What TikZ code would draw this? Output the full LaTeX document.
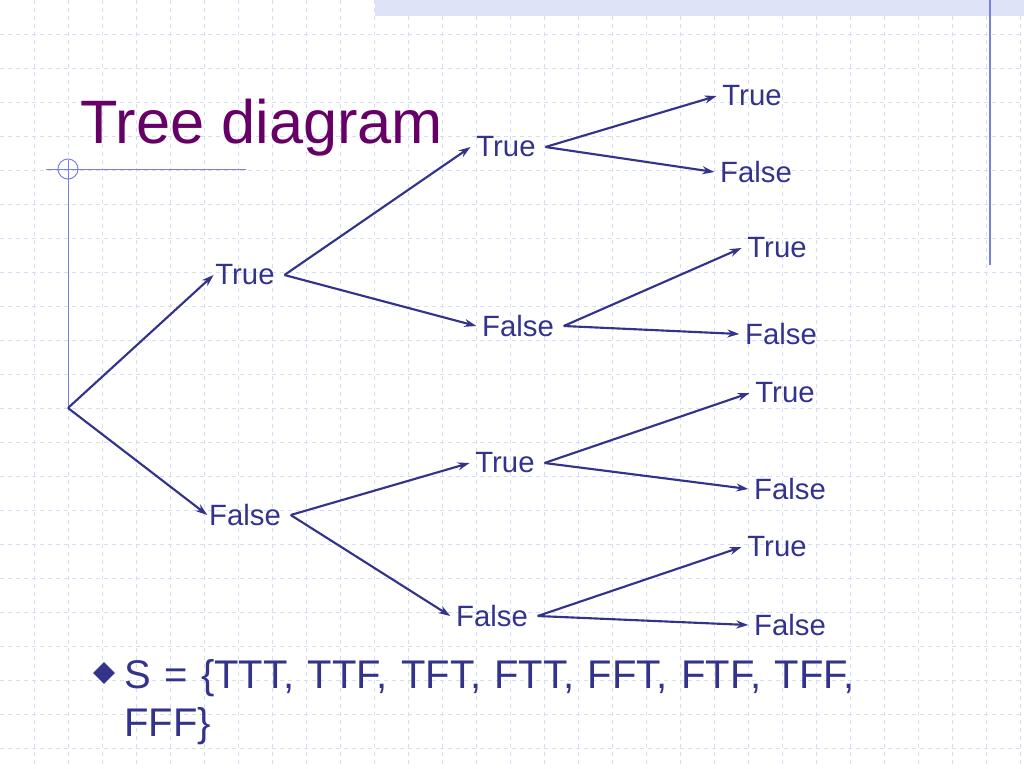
\documentclass[tikz,border=0pt]{standalone}
\usepackage{fontspec}
\setmainfont{Liberation Sans}
\usetikzlibrary{arrows.meta,shapes.geometric}
\definecolor{slideblue}{RGB}{51,51,140}
\definecolor{titlepurple}{RGB}{102,0,102}
\definecolor{gridblue}{RGB}{215,220,245}
\definecolor{rulerblue}{RGB}{120,130,220}
\tikzset{every picture/.style={line width=0.75pt},
	lbl/.style={text=slideblue,font=\fontsize{22}{24}\selectfont,inner sep=1pt},
	branch/.style={draw=slideblue,line width=1.6pt,-{Stealth[length=9pt,width=6pt]}}}

\begin{document}
\begin{tikzpicture}[x=0.75pt,y=0.75pt,yscale=-1,xscale=1]
	\useasboundingbox (0,0) rectangle (1024,768);
	% background grid
	\foreach \x in {34,68,...,1020} \draw [gridblue,dashed,line width=0.6pt] (\x,0) -- (\x,768);
	\foreach \y in {34,68,...,766} \draw [gridblue,dashed,line width=0.6pt] (0,\y) -- (1024,\y);
	\fill [gridblue!80] (375,0) rectangle (1024,16);
	\draw [rulerblue,line width=1pt] (990,0) -- (990,265);
	\draw [rulerblue] (46,169) -- (246,169);
	\draw [rulerblue] (68,169) circle (10);
	\draw [rulerblue] (68,160) -- (68,408);
	
	% Title
	\node (title) [anchor=base west,inner sep=0pt,text=titlepurple,font=\fontsize{46}{50}\selectfont] at (80,143) {Tree diagram};
	
	% Tree nodes
	\coordinate (root) at (68,408);
	\node (t) [lbl] at (245,275) {True};
	\node (f) [lbl] at (245,515) {False};
	\node (tt) [lbl] at (506,147) {True};
	\node (tf) [lbl] at (518,326) {False};
	\node (ft) [lbl] at (505,463) {True};
	\node (ff) [lbl] at (492,616) {False};
	\node (ttt) [lbl] at (752,96) {True};
	\node (ttf) [lbl] at (756,172) {False};
	\node (tft) [lbl] at (777,248) {True};
	\node (tff) [lbl] at (781,334) {False};
	\node (ftt) [lbl] at (785,393) {True};
	\node (ftf) [lbl] at (790,489) {False};
	\node (fft) [lbl] at (777,547) {True};
	\node (fff) [lbl] at (790,625) {False};
	
	% Branches
	\draw [branch] (root) -- (t.west);
	\draw [branch] (root) -- (f.west);
	\foreach \a/\b in {t/tt,t/tf,f/ft,f/ff,tt/ttt,tt/ttf,tf/tft,tf/tff,ft/ftt,ft/ftf,ff/fft,ff/fff}
		\draw [branch] ([xshift=6pt]\a.east) -- ([xshift=-3pt]\b.west);
	
	% Sample space
	\node (bullet) [diamond,fill=slideblue,draw=white,inner sep=0pt,minimum size=18pt] at (104,673) {};
	\node (space) [anchor=base west,inner sep=0pt,text=slideblue,font=\fontsize{30}{36}\selectfont,align=left,text width=700pt] at (124,688)
		{S = \{TTT, TTF, TFT, FTT, FFT, FTF, TFF,\\FFF\}};
\end{tikzpicture}
\end{document}
